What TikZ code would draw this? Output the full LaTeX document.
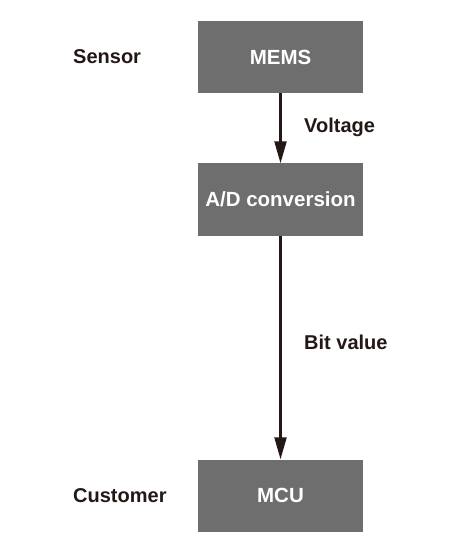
\documentclass[tikz,border=0pt]{standalone}
\usepackage{fontspec}
\setmainfont{Liberation Sans}
\usetikzlibrary{arrows.meta}
\definecolor{boxgray}{HTML}{6E6E6E}
\definecolor{inkblack}{HTML}{231815}
\tikzset{
  block/.style={fill=boxgray,text=white,minimum width=165pt,minimum height=72pt,inner sep=0pt,font=\bfseries\fontsize{20.5}{24}\selectfont},
  tag/.style={anchor=west,text=inkblack,inner sep=0pt,font=\bfseries\fontsize{20}{24}\selectfont},
  flow/.style={draw=inkblack,line width=2.2pt,-{Triangle[length=22pt,width=12pt]}}
}
\begin{document}
\begin{tikzpicture}[x=1pt,y=-1pt]
      \useasboundingbox (0,0) rectangle (474,553);
      \node[block] (mems) at (280.5,57) {MEMS};
      \node[block] (adc) at (280.5,199.5) {A/D conversion};
      \node[block] (mcu) at (280.5,495.5) {MCU};
      \node[tag] (sensor) at (73,57) {Sensor};
      \node[tag] (customer) at (73,495.5) {Customer};
      \node[tag] (voltage) at (304,127) {Voltage};
      \node[tag] (bitval) at (304,342) {Bit value};
      \draw[flow] (mems) -- (adc);
      \draw[flow] (adc) -- (mcu);
    \end{tikzpicture}
\end{document}
